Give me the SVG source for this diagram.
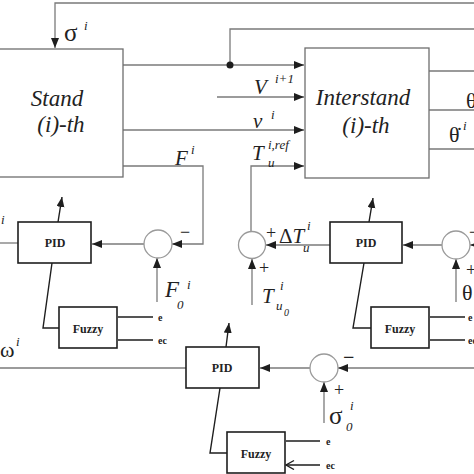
<svg xmlns="http://www.w3.org/2000/svg" width="474" height="474" viewBox="0 0 474 474">
<style>
.c{fill:none;stroke:#7a7a7a;stroke-width:1.3}
.big{fill:#fff;stroke:#6e6e6e;stroke-width:1.3}
.blk{fill:#fff;stroke:#1e1e1e;stroke-width:1.6}
.sum{fill:#fff;stroke:#9a9a9a;stroke-width:1.3}
.t text{fill:#222}
.box{font-size:23px;font-style:italic;text-anchor:middle}
.b{font-weight:bold;font-size:12px;text-anchor:middle}
.e{font-weight:bold;font-size:10px}
.m{font-size:21px;font-style:italic}
.s{font-size:13px;font-style:italic}
.g{font-size:22px}
.op{font-size:18px}
</style>
<defs>
<marker id="a" markerUnits="userSpaceOnUse" markerWidth="11" markerHeight="9" refX="10" refY="4" orient="auto"><path d="M0,0 L10,4 L0,8 z" fill="#1e1e1e"/></marker>
<marker id="v" markerUnits="userSpaceOnUse" markerWidth="11" markerHeight="11" refX="9" refY="5" orient="auto"><path d="M1,0.5 L9,5 L1,9.5" fill="none" stroke="#1e1e1e" stroke-width="1.4"/></marker>
</defs>

<g id="connectors">
<path class="c" d="M474,3 H55 V48" marker-end="url(#a)"/>
<path class="c" d="M123,65 H304" marker-end="url(#a)"/>
<path class="c" d="M230,65 V29 H474"/>
<path class="c" d="M217,97 H304" marker-end="url(#a)"/>
<path class="c" d="M123,130 H304" marker-end="url(#a)"/>
<path class="c" d="M123,166 H203 V244 H172" marker-end="url(#a)"/>
<path class="c" d="M144,244 H92" marker-end="url(#a)"/>
<path class="c" d="M0,243 H18"/>
<path class="c" d="M157,302 V258" marker-end="url(#a)"/>
<path class="c" d="M251,231 V166 H304" marker-end="url(#a)"/>
<path class="c" d="M330,245 H266" marker-end="url(#a)"/>
<path class="c" d="M252,305 V259" marker-end="url(#a)"/>
<path class="c" d="M442,245 H403" marker-end="url(#a)"/>
<path class="c" d="M456,302 V259" marker-end="url(#a)"/>
<path class="c" d="M480,245 H470" marker-end="url(#a)"/>
<path class="c" d="M429,71 H474 M429,110 H474 M429,149 H474"/>
<path class="c" d="M0,368 H186"/>
<path class="c" d="M310,368 H260" marker-end="url(#a)"/>
<path class="c" d="M474,368 H338" marker-end="url(#a)"/>
<path class="c" d="M324,423 V382" marker-end="url(#a)"/>
<path d="M58,222 L62,197" fill="none" stroke="#1e1e1e" stroke-width="1.4" marker-end="url(#a)"/>
<path d="M369,222 L373,198" fill="none" stroke="#1e1e1e" stroke-width="1.4" marker-end="url(#a)"/>
<path d="M226,347 L229,323" fill="none" stroke="#1e1e1e" stroke-width="1.4" marker-end="url(#a)"/>
<path d="M52,263 L43,328 H59 M364,263 L353,328 H371 M220,388 L210,453 H227" fill="none" stroke="#1e1e1e" stroke-width="1.4"/>
<path d="M153,317 H118 M153,340 H118 M465,317 H430 M465,340 H430 M320,441 H286 M320,465 H286" fill="none" stroke="#1e1e1e" stroke-width="1.4" marker-end="url(#v)"/>
<circle cx="230" cy="65" r="3.5" fill="#1e1e1e"/>
</g>

<g class="t" font-family="'Liberation Serif','Times New Roman',serif">
<g id="stand">
<rect class="big" x="-5" y="49" width="128" height="128"/>
<text class="box" x="57" y="106">Stand</text>
<text class="box" x="61" y="132">(i)-th</text>
</g>
<g id="interstand">
<rect class="big" x="305" y="48" width="124" height="130"/>
<text class="box" x="363" y="105">Interstand</text>
<text class="box" x="366" y="133">(i)-th</text>
</g>

<g id="pid1"><rect class="blk" x="18" y="222" width="73" height="41"/><text class="b" x="55" y="247">PID</text></g>
<g id="pid2"><rect class="blk" x="330" y="222" width="72" height="41"/><text class="b" x="366" y="247">PID</text></g>
<g id="pid3"><rect class="blk" x="186" y="347" width="73" height="41"/><text class="b" x="222" y="372">PID</text></g>
<g id="fuzzy1"><rect class="blk" x="59" y="307" width="58" height="41"/><text class="b" x="88" y="333">Fuzzy</text></g>
<g id="fuzzy2"><rect class="blk" x="371" y="307" width="58" height="41"/><text class="b" x="400" y="333">Fuzzy</text></g>
<g id="fuzzy3"><rect class="blk" x="227" y="432" width="58" height="41"/><text class="b" x="256" y="458">Fuzzy</text></g>

<g id="sumF"><circle class="sum" cx="158" cy="244" r="14"/></g>
<g id="sumT"><circle class="sum" cx="252" cy="245" r="13.5"/></g>
<g id="sumTheta"><circle class="sum" cx="456" cy="245" r="14"/></g>
<g id="sumSigma"><circle class="sum" cx="324" cy="368" r="14"/></g>

<g id="labels">
<text class="g" x="64" y="41" style="font-size:25px">σ</text><text class="s" x="84" y="30">i</text>
<text class="m" x="254" y="94">V</text><text class="s" x="275" y="83">i+1</text>
<text class="m" x="253" y="128">v</text><text class="s" x="271" y="119">i</text>
<text class="m" x="252" y="160">T</text><text class="s" x="268" y="149">i,ref</text><text class="s" x="268" y="167">u</text>
<text class="m" x="175" y="165">F</text><text class="s" x="191" y="154">i</text>
<text class="g" x="466" y="108">θ</text>
<text class="g" x="449" y="142">θ̇</text><text class="s" x="463" y="130">i</text>
<text class="s" x="1" y="224">i</text>
<text class="g" x="0" y="357">ω</text><text class="s" x="16" y="346">i</text>
<text class="op" x="180" y="238">−</text>
<text class="op" x="469" y="238">−</text>
<text class="op" x="266" y="239">+</text>
<text class="m" x="279" y="243"><tspan font-style="normal">Δ</tspan>T</text><text class="s" x="303" y="252">u</text><text class="s" x="307" y="230">i</text>
<text class="op" x="259" y="274">+</text>
<text class="op" x="466" y="276">+</text>
<text class="m" x="262" y="303">T</text><text class="s" x="276" y="310">u</text><text class="s" x="284" y="316" style="font-size:10px">0</text><text class="s" x="280" y="290">i</text>
<text class="m" x="165" y="297" style="font-size:23px">F</text><text class="s" x="177" y="309">0</text><text class="s" x="187" y="289">i</text>
<text class="g" x="462" y="300">θ</text>
<text class="op" x="343" y="364" style="font-weight:bold;font-size:20px">−</text>
<text class="op" x="334" y="396">+</text>
<text class="g" x="329" y="424" style="font-size:25px">σ</text><text class="s" x="346" y="431">0</text><text class="s" x="350" y="410">i</text>
<text class="e" x="158" y="321">e</text><text class="e" x="158" y="344">ec</text>
<text class="e" x="468" y="321">e</text><text class="e" x="468" y="344">ec</text>
<text class="e" x="326" y="445">e</text><text class="e" x="326" y="469">ec</text>
</g>
</g>
</svg>
